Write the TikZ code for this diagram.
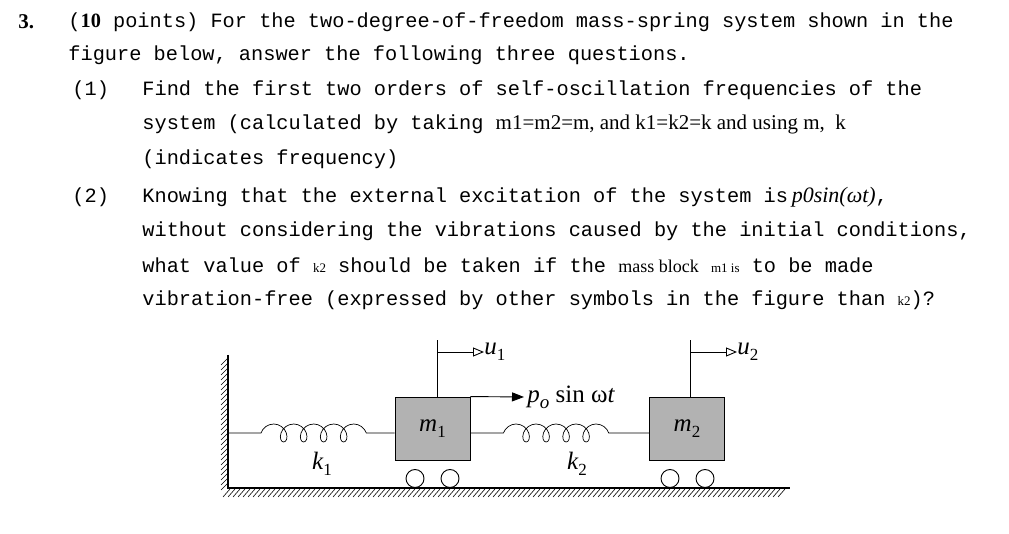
\documentclass[tikz,border=0pt]{standalone}
\usepackage{fontspec}
\setmainfont{Liberation Serif}
\setmonofont{Liberation Mono}
\usetikzlibrary{decorations.pathmorphing,arrows.meta}
\newcommand{\sbs}[1]{\raisebox{-0.25em}{\fontsize{17}{17}\selectfont\upshape #1}}
\begin{document}
\begin{tikzpicture}[x=1pt,y=-1pt,line width=0.9pt,
  tl/.style={anchor=west,inner sep=0pt,font=\ttfamily\fontsize{20.3}{20.3}\selectfont},
  mass/.style={draw,fill=black!30,minimum width=75pt,minimum height=63pt,inner sep=0pt},
  spr/.style={line width=0.7pt,decorate,decoration={coil,aspect=0.85,segment length=20pt,amplitude=9pt,pre length=33pt,post length=26pt}},
  lab/.style={inner sep=0pt,font=\fontsize{25}{25}\selectfont\itshape}]
\useasboundingbox (0,0) rectangle (1009,534);
\node[anchor=west,inner sep=0pt,font=\bfseries\fontsize{21}{21}\selectfont] (n3) at (18,22) {3.};
\node[tl] (l1) at (68,22) {(\textbf{\rmfamily 10} points) For the two-degree-of-freedom mass-spring system shown in the};
\node[tl] (l2) at (68,55) {figure below, answer the following three questions.};
\node[tl] (q1) at (72,90) {(1)};
\node[tl] (l3) at (142,90) {Find the first two orders of self-oscillation frequencies of the};
\node[tl] (l4) at (142,124) {system (calculated by taking {\rmfamily\fontsize{21}{21}\selectfont m1=m2=m, and k1=k2=k and using m, \ k}};
\node[tl] (l5) at (142,159) {(indicates frequency)};
\node[tl] (q2) at (72,197) {(2)};
\node[tl] (l6) at (142,197) {Knowing that the external excitation of the system is{\rmfamily\itshape\fontsize{22}{22}\selectfont\,p0sin(ωt)},};
\node[tl] (l7) at (142,231) {without considering the vibrations caused by the initial conditions,};
\node[tl] (l8) at (142,265) {what value of {\rmfamily\fontsize{13}{13}\selectfont k2} should be taken if the {\rmfamily\fontsize{18}{18}\selectfont mass block} {\rmfamily\fontsize{13}{13}\selectfont m1 is} to be made};
\node[tl] (l9) at (142,300) {vibration-free (expressed by other symbols in the figure than {\rmfamily\fontsize{13}{13}\selectfont k2})?};
% figure
\coordinate (wt) at (228,355);
\coordinate (wb) at (228,488);
\coordinate (ge) at (790,488);
\draw[line width=1.2pt] (wt) -- (wb) -- (ge);
\foreach \y in {358,363,...,486} \draw[line width=0.6pt] (228,\y) -- (221,\y+7);
\foreach \x in {230,235,...,786} \draw[line width=0.6pt] (\x,489) -- (\x-7,497);
\node[mass] (m1) at (432.5,428.5) {};
\node[lab] at (m1) {m\sbs{1}};
\node[mass] (m2) at (687,428.5) {};
\node[lab] at (m2) {m\sbs{2}};
\foreach \c in {415,450} \draw (\c,478.5) circle (9);
\foreach \c in {670,705} \draw (\c,478.5) circle (9);
\coordinate (wm) at (228,433);
\draw[spr] (wm) -- (m1.west |- wm);
\draw[spr] (m1.east |- wm) -- (m2.west |- wm);
\node[lab] (k1) at (322,464) {k\sbs{1}};
\node[lab] (k2) at (577,464) {k\sbs{2}};
\coordinate (r1) at (437,340);
\coordinate (r2) at (690,340);
\draw (m1.north -| r1) -- (r1);
\draw (m2.north -| r2) -- (r2);
\draw[-{Triangle[open,length=11pt,width=9pt]}] (437,352) -- (484,352) node[right,inner sep=3pt,lab] (u1) {u\sbs{1}};
\draw[-{Triangle[open,length=11pt,width=9pt]}] (690,352) -- (737,352) node[right,inner sep=3pt,lab] (u2) {u\sbs{2}};
\draw[-{Triangle[length=12pt,width=9pt]}] (m1.north east) -- (524,397) node[right,inner sep=3pt,font=\fontsize{25}{25}\selectfont] (f) {\textit{p}\raisebox{-0.25em}{\fontsize{19}{19}\selectfont\itshape o} sin ω\textit{t}};
\end{tikzpicture}
\end{document}
